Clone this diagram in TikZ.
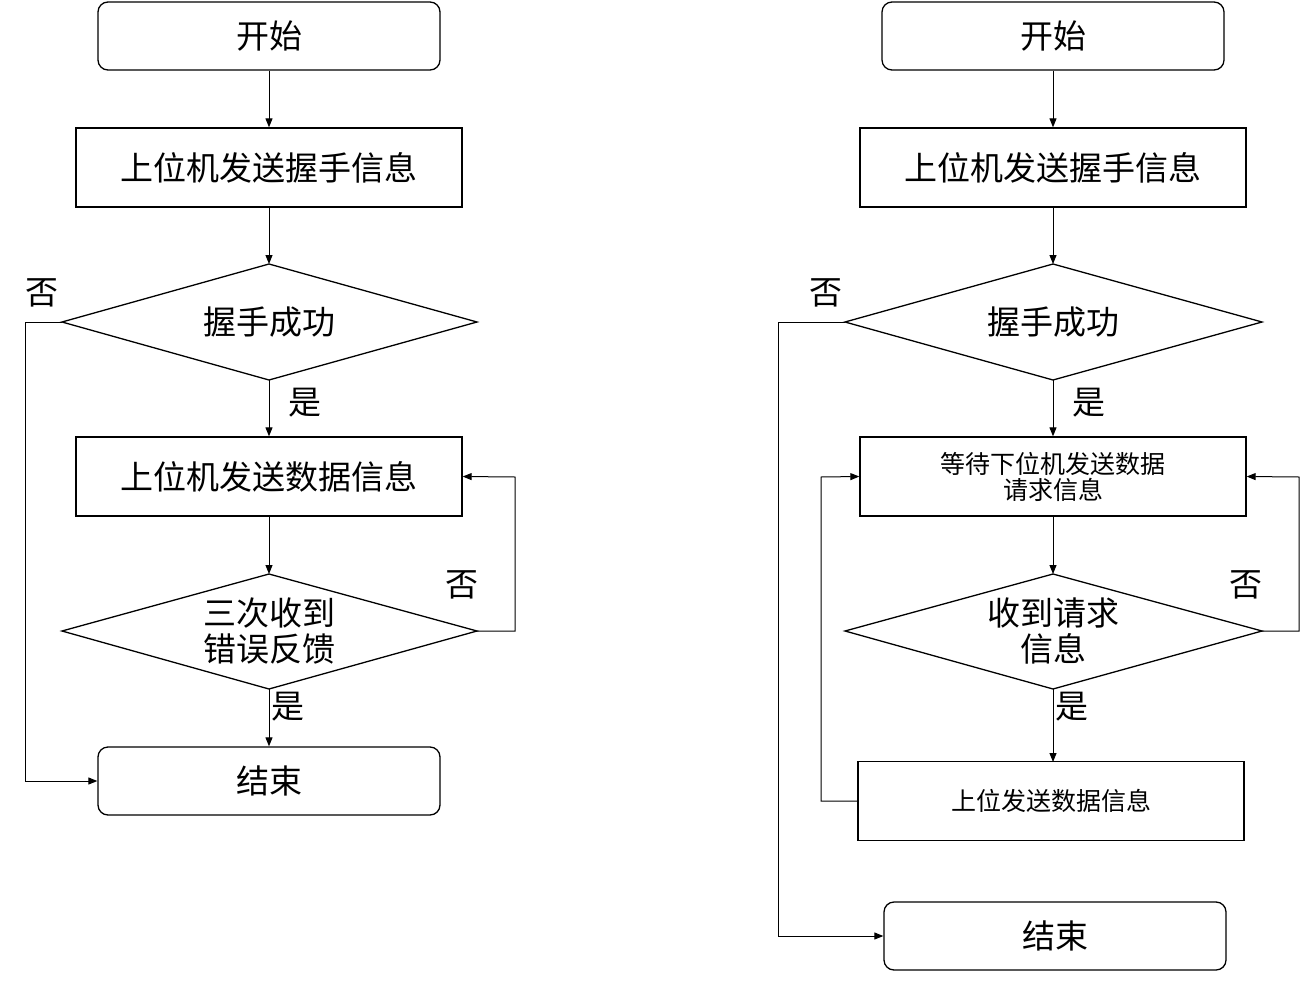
\documentclass[tikz,border=0pt]{standalone}
\usepackage{fontspec}
\setmainfont{Noto Sans CJK SC}
\usetikzlibrary{arrows.meta}
\begin{document}
\begin{tikzpicture}[x=1pt,y=-1pt,line width=1.3pt,
  big/.style={font=\fontsize{33}{40}\selectfont},
  small/.style={font=\fontsize{25}{32}\selectfont},
  term/.style={draw,rounded corners=10pt,minimum width=342pt,minimum height=68pt,big},
  proc/.style={draw,minimum width=386pt,minimum height=79pt,big,align=center},
  dec/.style={draw},
  lab/.style={big},
  arr/.style={-{Triangle[length=9pt,width=7pt]},line width=1pt}]
\useasboundingbox (0,0) rectangle (1300,982);
% left
\node[term] (ls) at (269,36) {开始};
\node[proc] (lh) at (269,167.5) {上位机发送握手信息};
\draw (62,322) coordinate (ld1w) -- (269,264) coordinate (ld1n) -- (477,322) -- (269,380) coordinate (ld1s) -- cycle;
\node[big] (ld1t) at (269,322) {握手成功};
\node[proc] (ld) at (269,476.5) {上位机发送数据信息};
\draw (62,631) coordinate (ld2w) -- (269,574) coordinate (ld2n) -- (477,631) coordinate (ld2e) -- (269,689) coordinate (ld2s) -- cycle;
\node[big,align=center] (ld2t) at (269,631) {三次收到\\[-4pt]错误反馈};
\node[term] (le) at (269,781) {结束};
\draw[arr] (ls) -- (lh);
\draw[arr] (lh) -- (ld1n);
\draw[arr] (ld1s) -- (ld);
\draw[arr] (ld) -- (ld2n);
\draw[arr] (ld2s) -- (le);
\draw[arr] (ld1w) -- (25,322) -- (25,781) -- (le.west);
\draw[arr] (ld2e) -- (515,631) -- (515,477) -- (ld.east);
\node[lab] (ln1) at (42,293) {否};
\node[lab] (ly1) at (305,403) {是};
\node[lab] (ln2) at (462,585) {否};
\node[lab] (ly2) at (288,707) {是};
% right
\node[term] (rs) at (1053,36) {开始};
\node[proc] (rh) at (1053,167.5) {上位机发送握手信息};
\draw (845,322) coordinate (rd1w) -- (1053,264) coordinate (rd1n) -- (1262,322) -- (1053,380) coordinate (rd1s) -- cycle;
\node[big] (rd1t) at (1053,322) {握手成功};
\node[proc,small] (rw) at (1053,476.5) {等待下位机发送数据\\[-6pt]请求信息};
\draw (845,631) coordinate (rd2w) -- (1053,574) coordinate (rd2n) -- (1262,631) coordinate (rd2e) -- (1053,689) coordinate (rd2s) -- cycle;
\node[big,align=center] (rd2t) at (1053,631) {收到请求\\[-4pt]信息};
\node[proc,small] (rp) at (1051,801) {上位发送数据信息};
\node[term,minimum width=342pt] (re) at (1055,936) {结束};
\draw[arr] (rs) -- (rh);
\draw[arr] (rh) -- (rd1n);
\draw[arr] (rd1s) -- (rw);
\draw[arr] (rw) -- (rd2n);
\draw[arr] (rd2s) -- (1053,762);
\draw[arr] (rd1w) -- (778,322) -- (778,936) -- (re.west);
\draw[arr] (rd2e) -- (1299,631) -- (1299,477) -- (rw.east);
\draw[arr] (rp.west) -- (821,801) -- (821,477) -- (rw.west);
\node[lab] (rn1) at (826,293) {否};
\node[lab] (ry1) at (1089,403) {是};
\node[lab] (rn2) at (1246,585) {否};
\node[lab] (ry2) at (1072,707) {是};
\end{tikzpicture}
\end{document}
